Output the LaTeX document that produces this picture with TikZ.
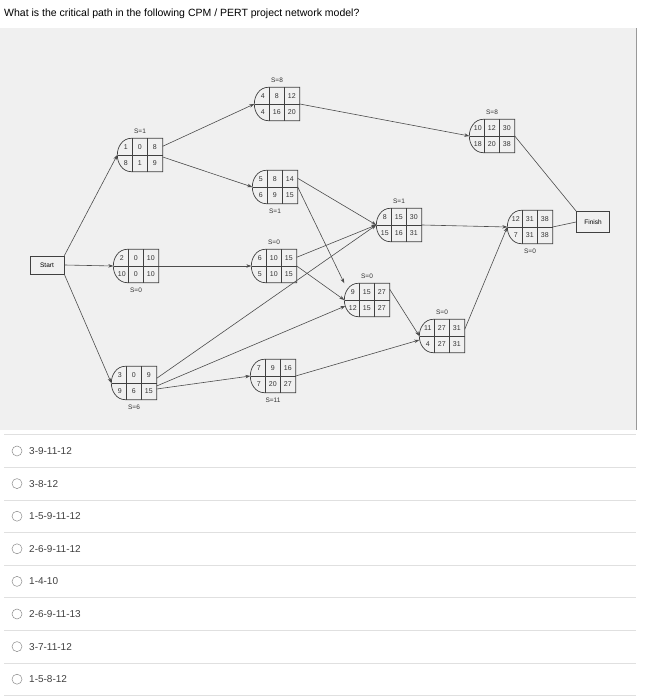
\documentclass[tikz,border=0pt]{standalone}
\usepackage{fontspec}
\setmainfont{Liberation Sans}
\usetikzlibrary{arrows.meta,calc,positioning}
\tikzset{
 x=1pt,y=1pt,
 box/.style={rectangle,minimum width=45pt,minimum height=33pt,inner sep=0pt},
 cell/.style={font=\fontsize{7}{8}\selectfont,inner sep=0pt,text=black!80},
 slab/.style={font=\fontsize{6.5}{7}\selectfont,inner sep=0pt,text=black!80},
 edge/.style={draw=black!70,line width=0.6pt,-{Stealth[length=5pt,width=3.5pt]}},
 plain/.style={draw=black!70,line width=0.6pt},
 outl/.style={draw=black!75,line width=0.7pt},
 opt/.style={font=\fontsize{10}{12}\selectfont,anchor=west,text=black!75,inner sep=0pt},
}
\newcommand\pn[9]{%
 \node[box] (#1) at (#2,{700-#3}) {};
 \draw[outl] ($(#1.north west)+(14,0)$) -- (#1.north east) -- (#1.south east) -- ($(#1.south west)+(14,0)$)
   to[out=180,in=-90] (#1.west) to[out=90,in=180] ($(#1.north west)+(14,0)$);
 \draw[outl] ($(#1.north west)+(15,0)$) -- ($(#1.south west)+(15,0)$);
 \draw[outl] ($(#1.north west)+(30,0)$) -- ($(#1.south west)+(30,0)$);
 \draw[outl] ($(#1.west)+(1,0)$) -- (#1.east);
 \node[cell] at ($(#1.north west)+(8.5,-8.5)$) {#4};
 \node[cell] at ($(#1.north west)+(22.5,-8.5)$) {#5};
 \node[cell] at ($(#1.north west)+(37.5,-8.5)$) {#6};
 \node[cell] at ($(#1.south west)+(8.5,8.5)$) {#7};
 \node[cell] at ($(#1.south west)+(22.5,8.5)$) {#8};
 \node[cell] at ($(#1.south west)+(37.5,8.5)$) {#9};
}
\begin{document}
\begin{tikzpicture}
\useasboundingbox (0,0) rectangle (645,700);
\fill[white] (0,0) rectangle (645,700);
\fill[black!6] (0,270) rectangle (636,672);
\draw[black!40] (636,270) -- (636,672);
\node[anchor=west,font=\fontsize{10.5}{12}\selectfont,inner sep=0pt] (title) at (4,686) {What is the critical path in the following CPM / PERT project network model?};

\node[draw=black!75,line width=0.7pt,minimum width=34pt,minimum height=18pt,inner sep=0pt,font=\fontsize{6.5}{7}\selectfont] (start) at (47,435) {Start};
\node[draw=black!75,line width=0.7pt,minimum width=33pt,minimum height=21pt,inner sep=0pt,font=\fontsize{6.5}{7}\selectfont] (finish) at (593,478) {Finish};

\pn{n1}{140}{155}{1}{0}{8}{8}{1}{9}
\pn{n4}{277}{104}{4}{8}{12}{4}{16}{20}
\pn{n5}{275}{187}{5}{8}{14}{6}{9}{15}
\pn{n2}{136}{266}{2}{0}{10}{10}{0}{10}
\pn{n6}{274}{266}{6}{10}{15}{5}{10}{15}
\pn{n3}{134}{383}{3}{0}{9}{9}{6}{15}
\pn{n7}{273}{376}{7}{9}{16}{7}{20}{27}
\pn{n10}{492}{136}{10}{12}{30}{18}{20}{38}
\pn{n8}{399}{225}{8}{15}{30}{15}{16}{31}
\pn{n12}{530}{227}{12}{31}{38}{7}{31}{38}
\pn{n9}{367}{300}{9}{15}{27}{12}{15}{27}
\pn{n11}{442}{336}{11}{27}{31}{4}{27}{31}

\node[slab,above=5pt of n1] {S=1};
\node[slab,above=5pt of n4] {S=8};
\node[slab,below=5pt of n5] {S=1};
\node[slab,below=5pt of n2] {S=0};
\node[slab,above=5pt of n6] {S=0};
\node[slab,below=5pt of n3] {S=6};
\node[slab,below=5pt of n7] {S=11};
\node[slab,above=5pt of n10] {S=8};
\node[slab,above=5pt of n8] {S=1};
\node[slab,below=5pt of n12] {S=0};
\node[slab,above=5pt of n9] {S=0};
\node[slab,above=5pt of n11] {S=0};

\draw[edge] (start.north east) -- (n1.west);
\draw[edge] (start.east) -- (n2.west);
\draw[edge] (n2.east) -- (n6.west);
\draw[edge] (start.south east) -- (n3.west);
\draw[edge] ($(n1.north east)+(0,-8)$) -- (n4.west);
\draw[edge] ($(n1.east)+(0,-2)$) -- (n5.west);
\draw[edge] (n4.east) -- (n10.west);
\draw[plain] (n10.east) -- (finish.north west);
\draw[edge] ($(n5.north east)+(0,-8)$) -- (n8.west);
\draw[edge] (n5.east) -- (n9.north west);
\draw[edge] ($(n6.north east)+(0,-8)$) -- (n8.west);
\draw[edge] (n6.east) -- (n9.west);
\draw[edge] ($(n3.north east)+(0,-12)$) -- (n8.west);
\draw[edge] ($(n3.east)+(0,-3)$) -- ($(n9.west)+(1,-6)$);
\draw[edge] ($(n3.east)+(0,-6)$) -- (n7.west);
\draw[edge] (n7.east) -- ($(n11.west)+(0,-4)$);
\draw[edge] ($(n9.north east)+(0,-6)$) -- (n11.west);
\draw[edge] ($(n11.north east)+(0,-10)$) -- (n12.west);
\draw[edge] (n8.east) -- (n12.west);
\draw[plain] (n12.east) -- (finish.west);

\foreach \t [count=\i] in {3-9-11-12,3-8-12,1-5-9-11-12,2-6-9-11-12,1-4-10,2-6-9-11-13,3-7-11-12,1-5-8-12}{
  \pgfmathsetmacro\yy{700-451-(\i-1)*32.6}
  \draw[black!45,line width=0.5pt] (17,\yy) circle (5);
  \node[opt] (o\i) at (29,\yy) {\t};
  \draw[black!12] (4,\yy-16.3) -- (636,\yy-16.3);
}
\draw[black!12] (4,700-434.7) -- (636,700-434.7);
\end{tikzpicture}
\end{document}
